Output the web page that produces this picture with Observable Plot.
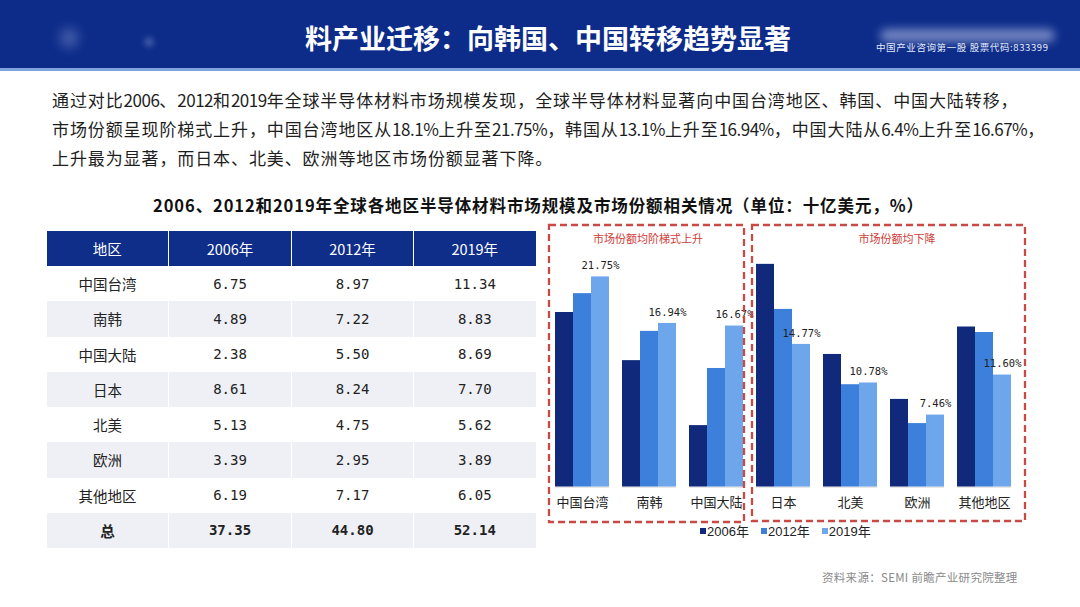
<!DOCTYPE html>
<html>
<head>
<meta charset="utf-8">
<script src="https://cdn.jsdelivr.net/npm/d3@7"></script>
<script src="https://cdn.jsdelivr.net/npm/@observablehq/plot@0.6"></script>
<style>
  html, body { margin: 0; padding: 0; background: #fff; }
  #page { position: relative; width: 1080px; height: 607px; overflow: hidden; font-family: "Noto Sans CJK SC", sans-serif; color: #222; }
  .abs { position: absolute; }
  #header { left: 0; top: 0; width: 1080px; height: 68px; background: #0d2c8a; }
  #headerLine { left: 0; top: 68px; width: 1080px; height: 3px; background: #7fa3df; }
  #title { left: 305px; top: 19px; white-space: nowrap; color: #fff; font-size: 27px; font-weight: bold; line-height: 38px; }
  #blob { left: 880px; top: 29px; width: 175px; height: 13px; background: rgba(200,210,240,0.55); filter: blur(5px); border-radius: 8px; }
  #blob2 { left: 60px; top: 28px; width: 18px; height: 20px; background: rgba(200,210,240,0.3); filter: blur(6px); border-radius: 10px; }
  #blob3 { left: 145px; top: 38px; width: 8px; height: 8px; background: rgba(200,210,240,0.4); filter: blur(3px); border-radius: 4px; }
  #slogan { left: 876px; top: 40px; color: #e3e9f7; font-size: 9.5px; letter-spacing: 0.6px; white-space: nowrap; }
  #para { left: 52px; top: 85px; font-size: 17px; line-height: 29px; letter-spacing: 0.9px; white-space: nowrap; color: #1e1e1e; }
  #para .a { letter-spacing: -0.5px; }
  #ctitle { left: 0; width: 1077px; top: 193px; text-align: center; font-size: 16.5px; font-weight: bold; letter-spacing: 0.9px; color: #111; white-space: nowrap; }
  #tbl { left: 46px; top: 231px; border-collapse: collapse; table-layout: fixed; width: 489px; }
  #tbl td, #tbl th { text-align: center; padding: 0; font-size: 14.5px; }
  #tbl th { background: #0f2e8a; color: #fff; height: 35px; font-weight: normal; border-left: 1px solid #fff; }
  #tbl th:first-child { border-left: none; }
  #tbl td { height: 35.25px; color: #222; border-left: 1px solid #fff; }
  #tbl td.num { font-family: "DejaVu Sans Mono", monospace; font-size: 14px; }
  #tbl tr.alt td { background: #eef0f6; }
  #tbl tr.tot td { font-weight: bold; }
  #chart { left: 540px; top: 220px; }
  #legend { left: 700px; top: 521px; font-size: 13px; color: #222; white-space: nowrap; font-family: "Liberation Sans", "Noto Sans CJK SC", sans-serif; }
  #legend span.sw { display: inline-block; width: 6px; height: 6px; margin-right: 1px; vertical-align: 2px; }
  #legend span.it { margin-right: 12px; }
  #source { left: 822px; top: 569px; font-size: 11.5px; color: #8a8a8a; white-space: nowrap; letter-spacing: 0.3px; }
  #boxes { left: 0; top: 0; pointer-events: none; }
</style>
</head>
<body>
<div id="page">
  <div id="header" class="abs"></div>
  <div id="headerLine" class="abs"></div>
  <div id="blob2" class="abs"></div>
  <div id="blob3" class="abs"></div>
  <div id="title" class="abs">料产业迁移：向韩国、中国转移趋势显著</div>
  <div id="blob" class="abs"></div>
  <div id="slogan" class="abs">中国产业咨询第一股 股票代码:833399</div>
  <div id="para" class="abs">通过对比<span class="a">2006</span>、<span class="a">2012</span>和<span class="a">2019</span>年全球半导体材料市场规模发现，全球半导体材料显著向中国台湾地区、韩国、中国大陆转移，<br>市场份额呈现阶梯式上升，中国台湾地区从<span class="a">18.1%</span>上升至<span class="a">21.75%</span>，韩国从<span class="a">13.1%</span>上升至<span class="a">16.94%</span>，中国大陆从<span class="a">6.4%</span>上升至<span class="a">16.67%</span>，<br>上升最为显著，而日本、北美、欧洲等地区市场份额显著下降。</div>
  <div id="ctitle" class="abs">2006、2012和2019年全球各地区半导体材料市场规模及市场份额相关情况（单位：十亿美元，%）</div>
  <table id="tbl" class="abs"></table>
  <div id="chart" class="abs"></div>
  <div id="legend" class="abs"></div>
  <div id="source" class="abs">资料来源：SEMI 前瞻产业研究院整理</div>
  <svg id="boxes" class="abs" width="1080" height="607"></svg>
</div>
<script>
// ---- data ----
const regions = ["中国台湾", "南韩", "中国大陆", "日本", "北美", "欧洲", "其他地区"];
const years = ["2006年", "2012年", "2019年"];
const size2006 = [6.75, 4.89, 2.38, 8.61, 5.13, 3.39, 6.19];
const size2012 = [8.97, 7.22, 5.50, 8.24, 4.75, 2.95, 7.17];
const size2019 = [11.34, 8.83, 8.69, 7.70, 5.62, 3.89, 6.05];
const totals = [37.35, 44.80, 52.14];
const share2006 = [18.07, 13.09, 6.37, 23.05, 13.73, 9.08, 16.57];
const share2012 = [20.02, 16.12, 12.28, 18.39, 10.60, 6.58, 16.00];
const share2019 = [21.75, 16.94, 16.67, 14.77, 10.78, 7.46, 11.60];
const yearColors = ["#10297a", "#3d80dc", "#6da6ea"];
const panelTitles = ["市场份额均阶梯式上升", "市场份额均下降"];

// ---- table ----
const tbl = document.getElementById("tbl");
let html = "<colgroup><col style='width:122px'><col style='width:123px'><col style='width:122px'><col style='width:122px'></colgroup>";
html += "<tr><th>地区</th>" + years.map(y => `<th>${y}</th>`).join("") + "</tr>";
regions.forEach((r, i) => {
  html += `<tr class="${i % 2 === 1 ? "alt" : ""}"><td>${r}</td><td class="num">${size2006[i].toFixed(2)}</td><td class="num">${size2012[i].toFixed(2)}</td><td class="num">${size2019[i].toFixed(2)}</td></tr>`;
});
html += `<tr class="alt tot"><td>总</td>` + totals.map(t => `<td class="num">${t.toFixed(2)}</td>`).join("") + "</tr>";
tbl.innerHTML = html;

// ---- chart data ----
const shares = [share2006, share2012, share2019];
const data = [];
regions.forEach((r, i) => years.forEach((y, j) => data.push({region: r, year: y, share: shares[j][i]})));

const chart = Plot.plot({
  width: 495,
  height: 300,
  marginLeft: 8,
  marginRight: 17,
  marginTop: 25,
  marginBottom: 33.3,
  style: {fontFamily: "Noto Sans CJK SC", fontSize: "13px", color: "#222", background: "transparent"},
  fx: {domain: regions, paddingInner: 0.2, paddingOuter: 0.1, label: null, axis: "bottom", tickSize: 0, tickPadding: 11},
  x: {domain: years, padding: 0, axis: null},
  y: {domain: [0, 25], axis: null},
  color: {domain: years, range: yearColors},
  marks: [
    Plot.barY(data, {fx: "region", x: "year", y: "share", fill: "year"}),
    Plot.ruleY([0], {stroke: "#dcdcdc"}),
    Plot.text(data.filter(d => d.year === years[2]), {
      fx: "region", x: "year", y: "share",
      text: d => d.share.toFixed(2) + "%",
      dy: -11, fontSize: 10.5, fontFamily: "DejaVu Sans Mono", fill: "#222"
    })
  ]
});
document.getElementById("chart").appendChild(chart);

// ---- legend ----
document.getElementById("legend").innerHTML = years.map((y, i) =>
  `<span class="it"><span class="sw" style="background:${yearColors[i]}"></span>${y}</span>`).join("");

// ---- dashed panels ----
const svg = d3.select("#boxes");
const panels = [
  {x0: 549, x1: 744, y0: 225, y1: 522, title: panelTitles[0], tx: 648},
  {x0: 752, x1: 1025, y0: 225, y1: 521, title: panelTitles[1], tx: 897}
];
panels.forEach(p => {
  svg.append("rect").attr("x", p.x0).attr("y", p.y0).attr("width", p.x1 - p.x0).attr("height", p.y1 - p.y0)
    .attr("fill", "none").attr("stroke", "#c94a45").attr("stroke-width", 2.3).attr("stroke-dasharray", "7 4");
  svg.append("text").attr("x", p.tx).attr("y", 240).attr("text-anchor", "middle").attr("dominant-baseline", "middle")
    .attr("fill", "#cf3d38").attr("font-size", 11).attr("font-family", "Noto Sans CJK SC").text(p.title);
});
</script>
</body>
</html>
